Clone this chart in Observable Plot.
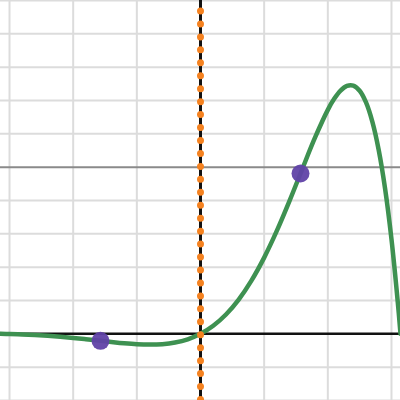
<!DOCTYPE html>
<html>
<head>
<meta charset="utf-8">
<script src="https://cdn.jsdelivr.net/npm/d3@7"></script>
<script src="https://cdn.jsdelivr.net/npm/@observablehq/plot@0.6"></script>
<style>
  html, body { margin: 0; padding: 0; background: #fff; }
  #chart svg { display: block; }
</style>
</head>
<body>
<div id="chart"></div>
<script>
// Curve values
const curveX = [-3.1416, -3.0, -2.8, -2.6, -2.4, -2.2, -2.0, -1.8, -1.6, -1.4, -1.2, -1.0, -0.8, -0.6, -0.4, -0.2, 0,
  0.2, 0.4, 0.6, 0.8, 1.0, 1.2, 1.4, 1.6, 1.8, 2.0, 2.1, 2.2, 2.3, 2.4, 2.5, 2.6, 2.7, 2.8, 2.9, 3.0, 3.1, 3.1416];
const curveY = [0, -0.007, -0.020, -0.038, -0.061, -0.090, -0.123, -0.161, -0.202, -0.243, -0.281, -0.310, -0.322, -0.310, -0.261, -0.163, 0,
  0.243, 0.581, 1.029, 1.597, 2.287, 3.094, 3.996, 4.951, 5.891, 6.719, 7.049, 7.297, 7.438, 7.446, 7.291, 6.941, 6.359, 5.509, 4.348, 2.834, 0.923, 0];

// Highlighted points
const pointX = [-1.5708, 1.5708];
const pointY = [-0.208, 4.810];

// Grid ticks
const xGrid = [-3, -2, -1, 1, 2, 3];
const yGrid = [-2, -1, 1, 2, 3, 4, 6, 7, 8, 9, 10];
const grayLineY = [5];

const curve = curveX.map((x, i) => ({x, y: curveY[i]}));
const points = pointX.map((x, i) => ({x, y: pointY[i]}));

const chart = Plot.plot({
  width: 400,
  height: 400,
  margin: 0,
  x: {domain: [-Math.PI, Math.PI], axis: null},
  y: {domain: [-2, 10], axis: null},
  style: {background: "#fff"},
  marks: [
    Plot.ruleX(xGrid, {stroke: "#dcdcdc", strokeWidth: 2}),
    Plot.ruleY(yGrid, {stroke: "#dcdcdc", strokeWidth: 2}),
    Plot.ruleY(grayLineY, {stroke: "#8a8a8a", strokeWidth: 2}),
    Plot.ruleY([0], {stroke: "#111", strokeWidth: 2.5}),
    Plot.ruleX([0], {y1: 10, y2: -2, stroke: "#111", strokeWidth: 3}),
    Plot.line(curve, {x: "x", y: "y", stroke: "#3e9151", strokeWidth: 4.5, curve: "catmull-rom"}),
    Plot.ruleX([0], {y1: 10, y2: -2, stroke: "#f58220", strokeWidth: 7, strokeLinecap: "round",
      strokeDasharray: "0,12.95", strokeDashoffset: 1.95}),
    Plot.dot(points, {x: "x", y: "y", r: 9, fill: "#6042a6", fillOpacity: 0.95, stroke: "none"})
  ]
});
document.getElementById("chart").appendChild(chart);
</script>
</body>
</html>
